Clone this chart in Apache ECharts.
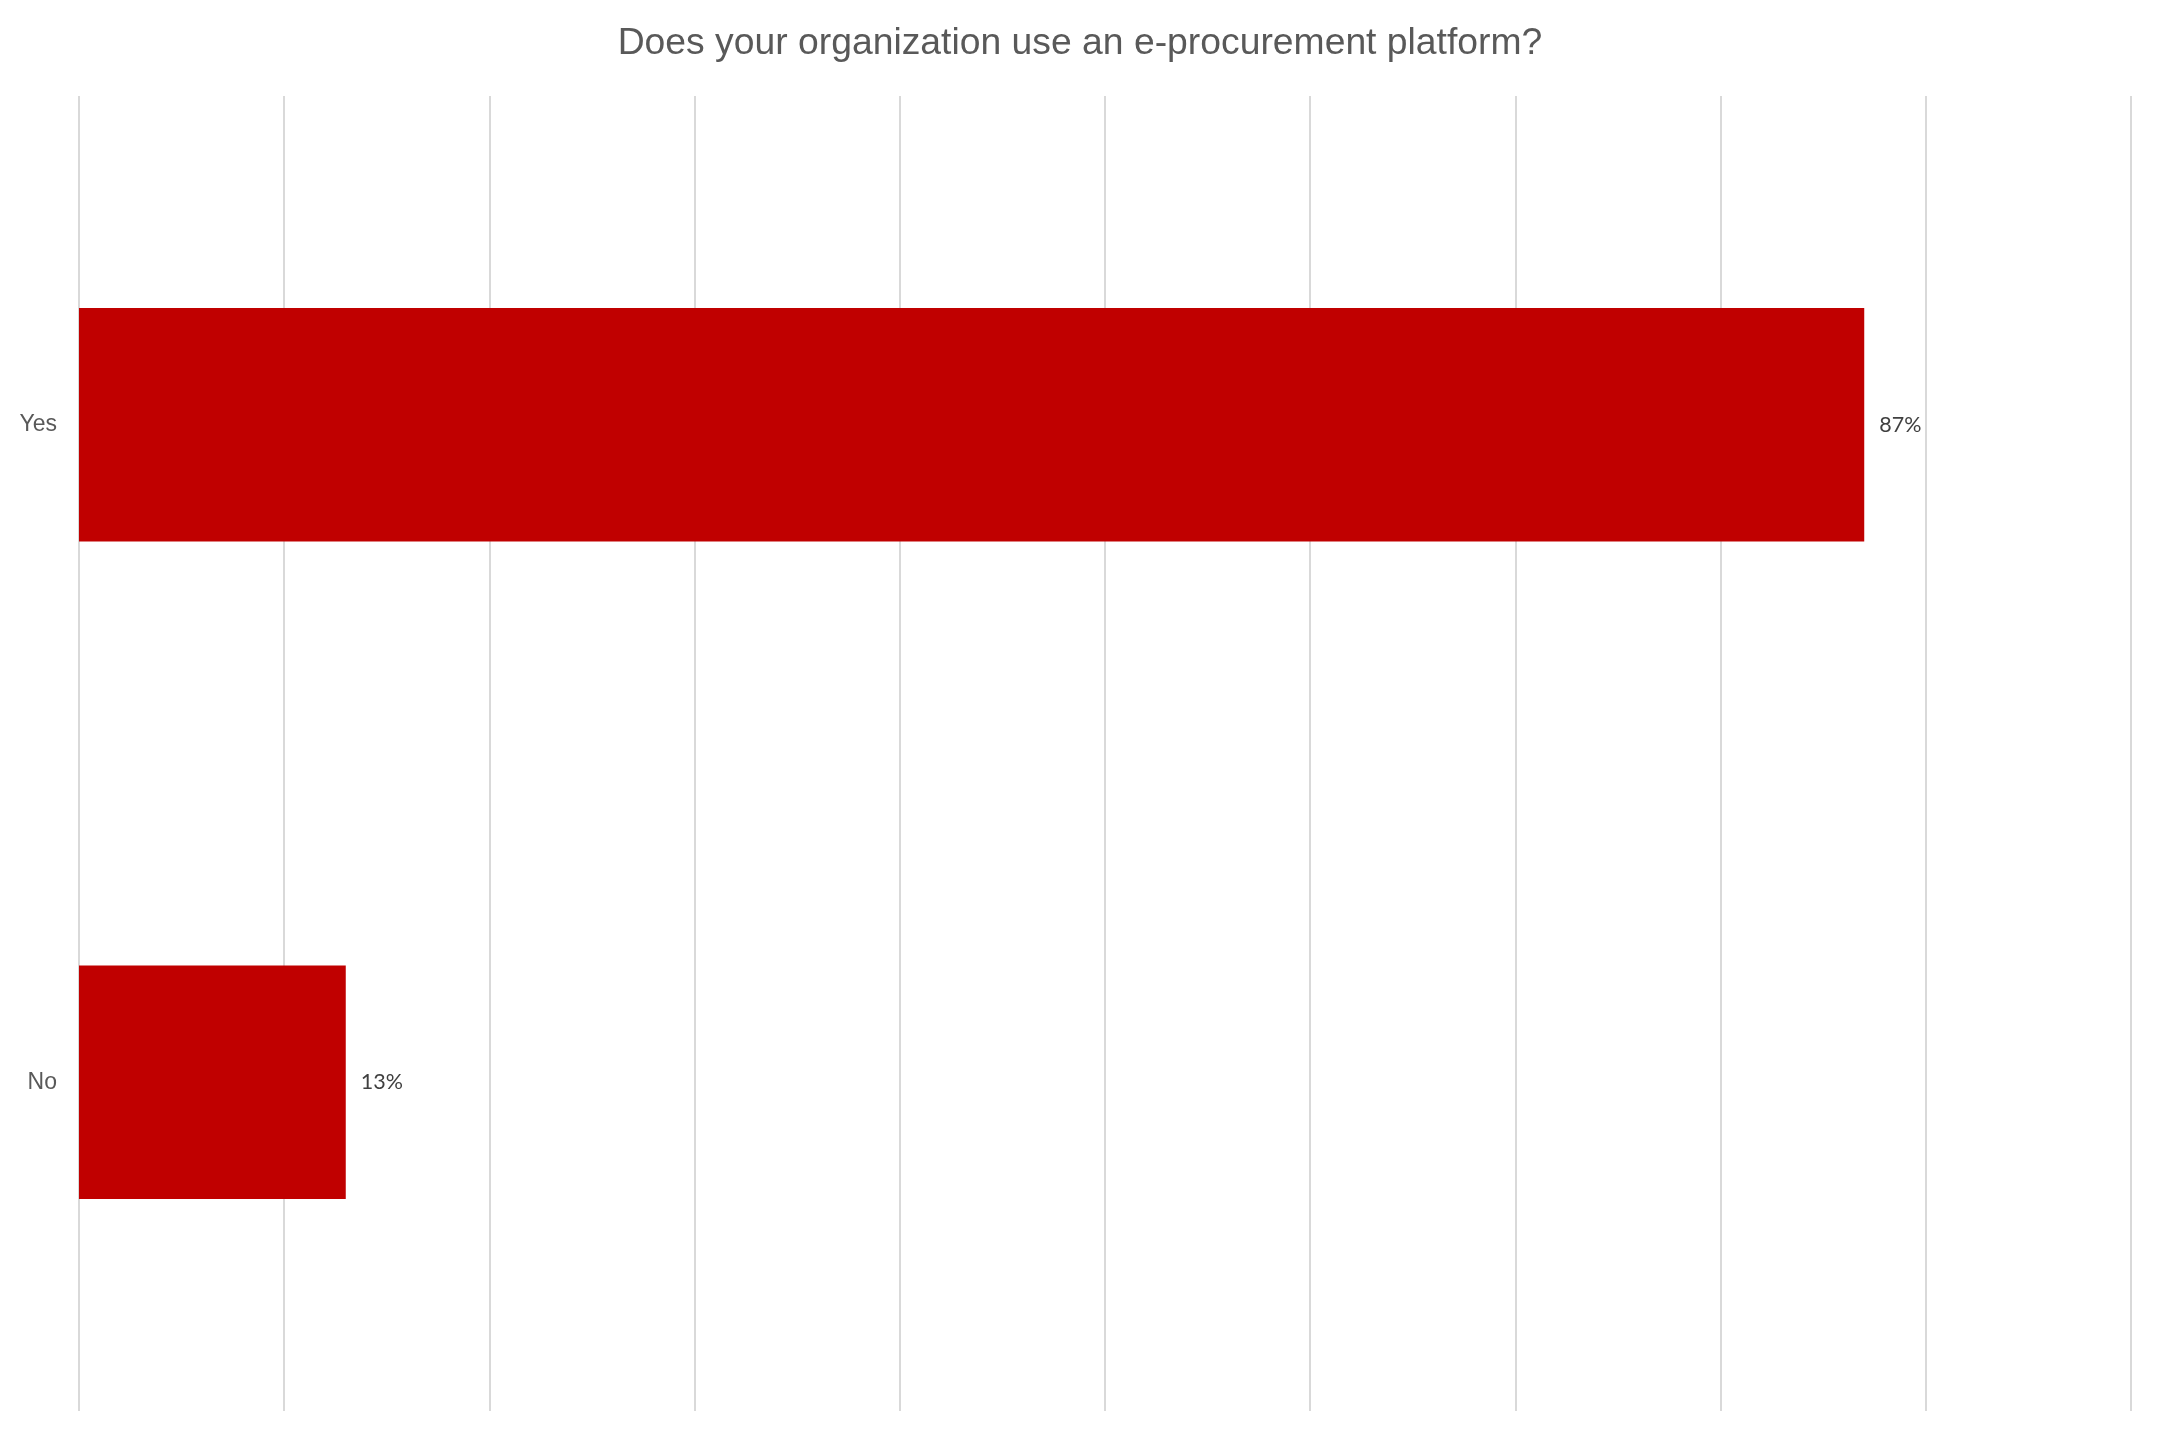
<!DOCTYPE html>
<html>
<head>
<meta charset="utf-8">
<style>
html,body{margin:0;padding:0;background:#fff;}
#chart{width:2160px;height:1440px;}
</style>
<script src="https://cdn.jsdelivr.net/npm/echarts@6/dist/echarts.min.js"></script>
</head>
<body>
<div id="chart"></div>
<script>
const titleText = 'Does your organization use an e-procurement platform?';
const categories = ['Yes', 'No'];
const values = [0.87, 0.13];
const xMin = 0;
const xMax = 1;
const xInterval = 0.1;

const chart = echarts.init(document.getElementById('chart'));
chart.setOption({
  backgroundColor: '#ffffff',
  animation: false,
  title: {
    text: titleText,
    left: 'center',
    top: 20,
    textStyle: {
      fontFamily: 'Liberation Sans',
      fontSize: 37.3,
      fontWeight: 'normal',
      color: '#595959'
    }
  },
  grid: { left: 79, right: 29, top: 96, bottom: 29, containLabel: false },
  xAxis: {
    type: 'value',
    min: xMin,
    max: xMax,
    interval: xInterval,
    axisLabel: { show: false },
    axisLine: { show: false },
    axisTick: { show: false },
    splitLine: { show: true, lineStyle: { color: '#d9d9d9', width: 2 } }
  },
  yAxis: {
    type: 'category',
    data: categories,
    inverse: true,
    axisLine: { show: false },
    axisTick: { show: false },
    axisLabel: {
      margin: 22,
      fontFamily: 'Liberation Sans',
      fontSize: 23,
      color: '#595959'
    }
  },
  series: [{
    type: 'bar',
    data: values,
    barWidth: '35.5%',
    itemStyle: { color: '#c00000' },
    label: {
      show: true,
      position: 'right',
      distance: 15,
      fontFamily: 'Lato',
      fontSize: 21.5,
      color: '#404040',
      formatter: p => Math.round(p.value * 100) + '%'
    }
  }]
});
</script>
</body>
</html>
